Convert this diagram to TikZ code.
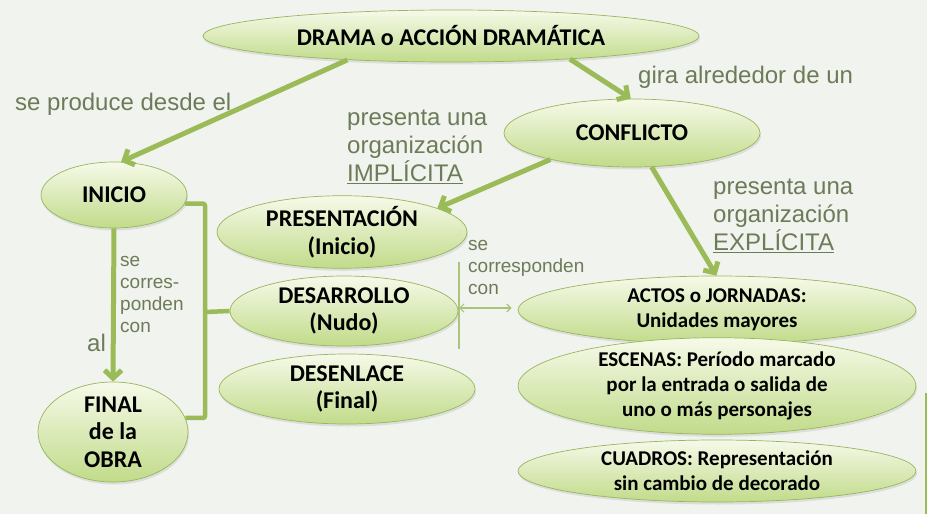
\documentclass[tikz,border=0pt]{standalone}
\usepackage{fontspec}
\setmainfont{Carlito}
\newfontfamily\labfont{Liberation Sans}
\usetikzlibrary{shapes.geometric,arrows.meta,shadows}
\definecolor{bg}{HTML}{F1F3EE}
\definecolor{elltop}{HTML}{F6FAE9}
\definecolor{ellbot}{HTML}{C1DB8A}
\definecolor{ellline}{HTML}{98B65E}
\definecolor{arr}{HTML}{9BBB59}
\definecolor{thin}{HTML}{A9C47C}
\definecolor{labc}{HTML}{6C7B58}
\begin{document}
\begin{tikzpicture}[x=1pt,y=-1pt,
  ell/.style={ellipse, draw=ellline, line width=0.7pt, top color=elltop, bottom color=ellbot,
    inner sep=0pt, align=center, text=black,
    drop shadow={opacity=0.18, shadow xshift=1pt, shadow yshift=-2.5pt}},
  bigtxt/.style={font=\bfseries\fontsize{24}{27.5}\selectfont},
  smalltxt/.style={font=\bfseries\fontsize{21}{25}\selectfont},
  thick arrow/.style={draw=arr, line width=5pt, -{Straight Barb[length=8pt,width=17pt]}},
  lab/.style={text=labc, inner sep=0pt, anchor=north west, align=left, font=\labfont\fontsize{24}{28}\selectfont},
  slab/.style={text=labc, inner sep=0pt, anchor=north west, align=left, font=\labfont\fontsize{19}{22}\selectfont},
  brk/.style={draw=arr, line width=4.5pt, rounded corners=2pt}
]
\fill[bg] (0,0) rectangle (927,514);
\useasboundingbox (0,0) rectangle (927,514);

% nodes
\node[ell, bigtxt, minimum width=496pt, minimum height=52pt] (drama) at (451,36) {DRAMA o ACCIÓN DRAMÁTICA};
\node[ell, bigtxt, minimum width=256pt, minimum height=68pt] (conflicto) at (632,133) {CONFLICTO};
\node[ell, bigtxt, minimum width=146pt, minimum height=66pt] (inicio) at (114,195) {INICIO};
\node[ell, bigtxt, minimum width=150pt, minimum height=100pt] (final) at (113,432) {FINAL\\de la\\OBRA};
\node[ell, bigtxt, minimum width=250pt, minimum height=72pt] (presentacion) at (342,232) {PRESENTACIÓN\\(Inicio)};
\node[ell, bigtxt, minimum width=228pt, minimum height=70pt] (desarrollo) at (344,311) {DESARROLLO\\(Nudo)};
\node[ell, bigtxt, minimum width=256pt, minimum height=70pt] (desenlace) at (347,389) {DESENLACE\\(Final)};
\node[ell, smalltxt, minimum width=398pt, minimum height=68pt] (actos) at (717,310) {ACTOS o JORNADAS:\\Unidades mayores};
\node[ell, smalltxt, minimum width=398pt, minimum height=80pt] (escenas) at (717,386) {ESCENAS: Período marcado\\por la entrada o salida de\\uno o más personajes};
\node[ell, smalltxt, minimum width=398pt, minimum height=62pt] (cuadros) at (717,471) {CUADROS: Representación\\sin cambio de decorado};

% thick arrows
\draw[thick arrow] (drama.193) -- (inicio.78);
\draw[thick arrow] (drama.349) -- (conflicto.92);
\draw[thick arrow] (conflicto.198) -- (presentacion.14);
\draw[thick arrow] (conflicto.300) -- (actos.91);
\draw[thick arrow] (inicio.south) -- (final.north);

% thick bracket
\coordinate (bm) at (205,312);
\draw[brk] (inicio.-7) -| (bm) |- (final.11);
\draw[brk] (bm) -- (desarrollo.west);

% thin bracket and double arrow
\coordinate (tb1) at (459,262);
\coordinate (tb2) at (459,349);
\coordinate (tbm) at (459,308);
\draw[draw=thin, line width=1.6pt] (tb1) -- (tb2);
\draw[draw=thin, line width=1.2pt, {Straight Barb[length=4pt,width=8pt]}-{Straight Barb[length=4pt,width=8pt]}, shorten >=6pt] (tbm) -- (actos.west |- tbm);

% right edge line
\coordinate (re1) at (925.5,393);
\coordinate (re2) at (925.5,514);
\draw[draw=arr, line width=2pt] (re1) -- (re2);

% labels
\node[lab] (l1) at (15,93) {se produce desde el};
\node[lab] (l2) at (638,66) {gira alrededor de un};
\node[lab] (l3) at (347,110) {presenta una\\organización\\\underline{IMPLÍCITA}};
\node[lab] (l4) at (713,179) {presenta una\\organización\\\underline{EXPLÍCITA}};
\node[lab] (l5) at (87,334) {al};
\node[slab] (l6) at (120,256) {se\\corres-\\ponden\\con};
\node[slab] (l7) at (468,240) {se\\corresponden\\con};
\end{tikzpicture}
\end{document}
